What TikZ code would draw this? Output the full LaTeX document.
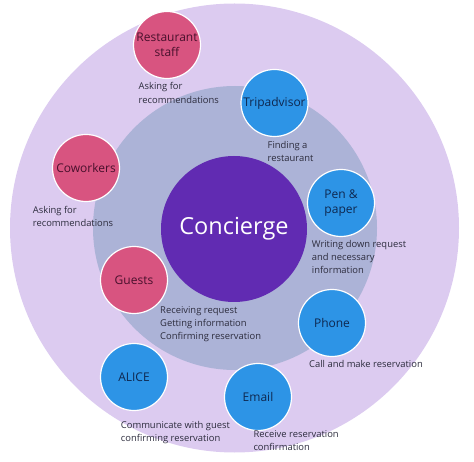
\documentclass[tikz,border=0pt]{standalone}
\usepackage{fontspec}
\setmainfont{Open Sans}
\definecolor{outerring}{RGB}{220,203,240}
\definecolor{innerring}{RGB}{172,179,215}
\definecolor{conciergefill}{RGB}{97,43,178}
\definecolor{peoplefill}{RGB}{216,84,128}
\definecolor{toolfill}{RGB}{45,148,230}
\definecolor{peopletext}{RGB}{72,16,44}
\definecolor{tooltext}{RGB}{14,40,80}
\definecolor{notetext}{RGB}{45,45,62}
\tikzset{
  ball/.style={circle,draw=white,line width=1.2pt,minimum size=67pt,inner sep=0pt,
    align=center,font=\fontsize{12}{15}\selectfont},
  people/.style={ball,fill=peoplefill,text=peopletext},
  tool/.style={ball,fill=toolfill,text=tooltext},
  note/.style={anchor=base west,align=left,inner sep=0pt,text=notetext,
    font=\fontsize{9.4}{13.3}\selectfont}
}
\begin{document}
\begin{tikzpicture}[x=1pt,y=-1pt]
      \useasboundingbox (0,0) rectangle (474,462);
      % rings
      \node[circle,fill=outerring,minimum size=449pt,inner sep=0pt] (outer) at (234.5,228) {};
      \node[circle,fill=innerring,minimum size=284pt,inner sep=0pt] (inner) at (235,228) {};
      \node[circle,fill=conciergefill,minimum size=146pt,inner sep=0pt,text=white,
        font=\fontsize{23.5}{28}\selectfont] (concierge) at (234,229) {Concierge};
      % people
      \foreach \n/\x/\y/\t in{staff/167/45/{Restaurant\\staff}, coworkers/86/168/Coworkers,
          guests/134/280/Guests}{
        \node[people] (\n) at (\x,\y) {\t};
      }
      % tools
      \foreach \n/\x/\y/\t in{tripadvisor/274.5/103/Tripadvisor, pen/341/203/{Pen \&\\paper},
          phone/332/323/Phone, alice/134/377/ALICE, email/258/397/Email}{
        \node[tool] (\n) at (\x,\y) {\t};
      }
      % notes (y = baseline of the last line)
      \foreach \n/\x/\y/\t in{
          staffnote/138.5/103.3/{Asking for\\recommendations},
          tripnote/267.5/161.8/{Finding a\\restaurant},
          coworkersnote/32.7/226.6/{Asking for\\recommendations},
          pennote/311.7/273.9/{Writing down request\\and necessary\\information},
          guestsnote/160/339.9/{Receiving request\\Getting information\\Confirming reservation},
          phonenote/309/367.3/{Call and make reservation},
          alicenote/120.7/441.6/{Communicate with guest\\confirming reservation},
          emailnote/253.3/450.6/{Receive reservation\\confirmation}}{
        \node[note] (\n) at (\x,\y) {\t};
      }
\end{tikzpicture}
\end{document}
